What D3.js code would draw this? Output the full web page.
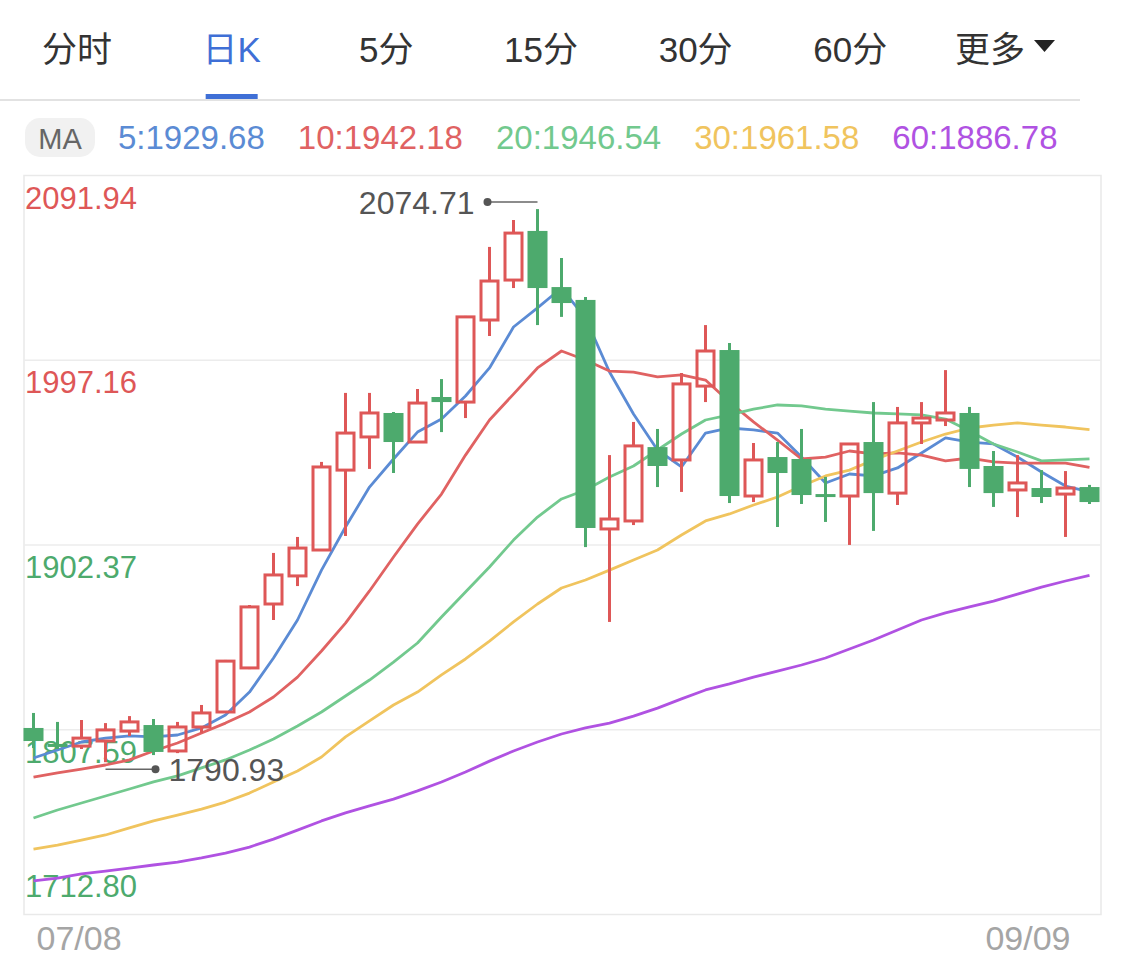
<!DOCTYPE html>
<html>
<head>
<meta charset="utf-8">
<script src="https://cdn.jsdelivr.net/npm/d3@7"></script>
<style>
  body { margin: 0; background: #fff; }
  svg { display: block; font-family: "Liberation Sans", "Noto Sans CJK SC", sans-serif; }
</style>
</head>
<body>
<svg id="chart" width="1125" height="971"></svg>
<script>
// tabs along the top
const tabs = ['分时', '日K', '5分', '15分', '30分', '60分', '更多']
const activeTab = '日K'

// trading days shown
const dates = ['07/08', '07/09', '07/10', '07/13', '07/14', '07/15', '07/16', '07/17', '07/20', '07/21',
    '07/22', '07/23', '07/24', '07/27', '07/28', '07/29', '07/30', '07/31', '08/03', '08/04',
    '08/05', '08/06', '08/07', '08/10', '08/11', '08/12', '08/13', '08/14', '08/17', '08/18',
    '08/19', '08/20', '08/21', '08/24', '08/25', '08/26', '08/27', '08/28', '08/31', '09/01',
    '09/02', '09/03', '09/04', '09/08', '09/09']

const open = [1808.5, 1800.3, 1799.2, 1801.8, 1806.9, 1810.0, 1796.7, 1809.0, 1816.7, 1839.3,
    1872.1, 1886.5, 1899.8, 1940.8, 1957.8, 1970.1, 1955.2, 1978.3, 1975.7, 2017.8,
    2038.3, 2063.5, 2034.7, 2028.1, 1910.6, 1914.7, 1952.6, 1946.0, 1983.9, 2002.4,
    1927.5, 1947.5, 1946.5, 1928.5, 1927.5, 1955.2, 1929.0, 1965.0, 1966.5, 1970.1,
    1942.9, 1930.6, 1931.6, 1928.5, 1932.1]
const high = [1816.2, 1811.6, 1812.6, 1811.0, 1814.6, 1813.1, 1811.6, 1820.3, 1843.4, 1871.6,
    1898.3, 1906.5, 1945.0, 1980.4, 1980.4, 1970.6, 1982.4, 1987.5, 2019.9, 2055.3,
    2069.1, 2074.71, 2049.6, 2029.6, 1948.5, 1965.5, 1961.9, 1990.6, 2015.2, 2006.0,
    1954.7, 1955.2, 1961.9, 1937.3, 1954.7, 1975.7, 1973.2, 1975.7, 1992.1, 1973.2,
    1950.6, 1948.5, 1940.8, 1940.3, 1933.2]
const low = [1798.2, 1797.7, 1797.7, 1790.93, 1804.4, 1794.6, 1795.6, 1805.9, 1816.2, 1838.7,
    1863.9, 1881.3, 1899.3, 1907.0, 1941.4, 1939.3, 1954.7, 1960.3, 1967.5, 2009.6,
    2034.2, 2015.2, 2019.4, 1901.3, 1862.9, 1912.6, 1932.1, 1929.6, 1975.7, 1923.9,
    1924.4, 1911.6, 1923.4, 1914.2, 1902.4, 1909.6, 1922.9, 1954.2, 1963.4, 1932.1,
    1921.9, 1916.7, 1923.9, 1906.5, 1923.4]
const close = [1801.8, 1799.2, 1803.3, 1807.5, 1811.6, 1796.2, 1809.0, 1816.2, 1842.8, 1870.6,
    1887.0, 1900.8, 1942.4, 1959.8, 1970.1, 1955.2, 1975.2, 1975.7, 2019.4, 2037.8,
    2062.4, 2034.2, 2026.5, 1911.1, 1915.7, 1953.2, 1942.9, 1985.0, 2001.9, 1927.5,
    1946.0, 1939.3, 1928.0, 1927.5, 1954.2, 1929.0, 1965.0, 1967.5, 1970.1, 1941.4,
    1929.0, 1934.2, 1927.0, 1931.6, 1924.4]

// moving averages
const ma5 = [1793.1, 1797.2, 1801.3, 1803.3, 1804.4, 1803.9, 1804.9, 1808.5, 1815.1, 1826.9,
    1844.4, 1863.9, 1889.5, 1911.6, 1932.1, 1946.5, 1960.3, 1967.0, 1978.8, 1993.2,
    2014.2, 2024.0, 2034.2, 2018.8, 1991.1, 1969.6, 1951.1, 1942.4, 1959.8, 1962.4,
    1961.4, 1959.8, 1947.5, 1934.2, 1938.8, 1937.8, 1941.9, 1949.6, 1957.3, 1955.2,
    1954.2, 1947.5, 1939.8, 1932.6, 1929.68]
const ma10 = [1783.3, 1785.4, 1787.4, 1789.5, 1792.1, 1796.7, 1800.8, 1805.9, 1811.0, 1816.7,
    1824.4, 1834.6, 1848.0, 1862.3, 1878.8, 1896.2, 1913.1, 1928.5, 1948.5, 1966.5,
    1979.8, 1993.2, 2001.9, 1997.3, 1991.6, 1991.1, 1988.6, 1989.6, 1987.0, 1975.7,
    1965.5, 1956.2, 1946.5, 1947.5, 1950.6, 1949.1, 1949.6, 1948.5, 1945.5, 1947.0,
    1945.0, 1944.4, 1944.4, 1944.4, 1942.18]
const ma20 = [1762.3, 1766.4, 1770.0, 1773.6, 1777.2, 1780.8, 1783.9, 1788.0, 1792.1, 1797.2,
    1802.8, 1809.5, 1816.7, 1824.9, 1833.1, 1842.3, 1852.1, 1865.4, 1878.3, 1891.1,
    1904.9, 1916.7, 1926.0, 1930.6, 1937.3, 1942.9, 1951.1, 1959.3, 1966.5, 1969.1,
    1972.1, 1974.2, 1973.7, 1972.1, 1971.1, 1970.1, 1969.6, 1969.1, 1967.0, 1960.9,
    1954.2, 1950.1, 1945.5, 1946.0, 1946.54]
const ma30 = [1746.4, 1748.4, 1751.0, 1753.6, 1757.2, 1760.8, 1763.8, 1766.9, 1770.5, 1775.1,
    1780.8, 1786.4, 1793.6, 1803.9, 1812.1, 1820.3, 1826.9, 1835.7, 1843.9, 1853.1,
    1862.9, 1872.1, 1880.3, 1884.4, 1889.5, 1894.7, 1899.8, 1907.5, 1914.7, 1918.3,
    1922.9, 1927.0, 1932.6, 1937.8, 1940.8, 1946.0, 1950.6, 1955.2, 1959.3, 1962.4,
    1963.9, 1965.0, 1963.9, 1962.9, 1961.58]
const ma60 = [1730.0, 1731.5, 1733.6, 1735.1, 1736.6, 1738.2, 1739.7, 1741.8, 1744.3, 1747.4,
    1751.5, 1756.1, 1760.8, 1764.9, 1768.5, 1772.0, 1776.2, 1780.8, 1785.9, 1791.5,
    1796.7, 1801.3, 1805.4, 1808.5, 1811.0, 1814.6, 1818.7, 1823.4, 1828.0, 1831.1,
    1834.6, 1837.7, 1840.8, 1844.4, 1849.0, 1853.6, 1858.8, 1863.9, 1867.5, 1870.6,
    1873.6, 1877.2, 1880.8, 1883.9, 1886.78]

const maPeriods = [5, 10, 20, 30, 60]
const maColors = ['#5b8bd4', '#e06262', '#72c98e', '#f0c45e', '#b052e2']
const maSeries = [ma5, ma10, ma20, ma30, ma60]

// y axis tick labels
const yTicks = [2091.94, 1997.16, 1902.37, 1807.59, 1712.80]

const RED = '#de5757'
const GREEN = '#4daa6d'

const svg = d3.select('#chart')

// ---- tabs ----
const tabX = d3.scalePoint().domain(tabs).range([77, 1005])

svg.selectAll('.tab')
    .data(tabs)
    .join('text')
    .attr('class', 'tab')
    .attr('x', d => d === '更多' ? tabX(d) - 15 : tabX(d))
    .attr('y', 62)
    .attr('text-anchor', 'middle')
    .style('font-size', '35px')
    .style('fill', d => d === activeTab ? '#3f6fd6' : '#333')
    .text(d => d)

// dropdown arrow after 更多
const moreX = tabX('更多')
svg.append('path')
    .attr('d', `M${moreX + 29},${40} L${moreX + 50},${40} L${moreX + 39.5},${52} Z`)
    .style('fill', '#222')

svg.append('rect')
    .attr('x', tabX(activeTab) - 26)
    .attr('y', 94)
    .attr('width', 52)
    .attr('height', 5)
    .style('fill', '#3f6fd6')

svg.append('line')
    .attr('x1', 0).attr('x2', 1080)
    .attr('y1', 100).attr('y2', 100)
    .style('stroke', '#e2e2e2')
    .style('stroke-width', 2)

// ---- MA legend ----
svg.append('rect')
    .attr('x', 25).attr('y', 118)
    .attr('width', 70).attr('height', 39)
    .attr('rx', 15)
    .style('fill', '#f1f1f1')
svg.append('text')
    .attr('x', 60).attr('y', 149)
    .attr('text-anchor', 'middle')
    .style('font-size', '29px')
    .style('fill', '#666')
    .text('MA')

let legendX = 118
maPeriods.forEach((p, i) => {
    const series = maSeries[i]
    const t = svg.append('text')
        .attr('x', legendX)
        .attr('y', 149)
        .style('font-size', '33px')
        .style('fill', maColors[i])
        .text(`${p}:${series[series.length - 1].toFixed(2)}`)
    legendX += t.node().getComputedTextLength() + 33
})

// ---- scales ----
const plot = { left: 24, right: 1101, top: 175.5, bottom: 914.5 }

const x = d3.scaleLinear()
    .domain([0, dates.length - 1])
    .range([33.5, 1089.5])

const y = d3.scaleLinear()
    .domain([yTicks[yTicks.length - 1], yTicks[0]])
    .range([plot.bottom, plot.top])

// grid + frame
svg.append('rect')
    .attr('x', plot.left).attr('y', plot.top)
    .attr('width', plot.right - plot.left)
    .attr('height', plot.bottom - plot.top)
    .style('fill', 'none')
    .style('stroke', '#e9e9e9')
    .style('stroke-width', 1.5)

svg.selectAll('.grid')
    .data(yTicks.slice(1, -1))
    .join('line')
    .attr('class', 'grid')
    .attr('x1', plot.left).attr('x2', plot.right)
    .attr('y1', d => y(d)).attr('y2', d => y(d))
    .style('stroke', '#ececec')
    .style('stroke-width', 1.5)

const lastClose = close[close.length - 1]
svg.selectAll('.ylabel')
    .data(yTicks)
    .join('text')
    .attr('class', 'ylabel')
    .attr('x', plot.left + 1)
    .attr('y', (d, i) => i === yTicks.length - 1 ? y(d) - 18 : y(d) + 33)
    .style('font-size', '31px')
    .style('fill', d => d > lastClose ? RED : GREEN)
    .text(d => d.toFixed(2))

// ---- MA lines ----
const line = d3.line()
    .x((d, i) => x(i))
    .y(d => y(d))

svg.selectAll('.ma')
    .data(maSeries)
    .join('path')
    .attr('class', 'ma')
    .attr('d', d => line(d))
    .style('fill', 'none')
    .style('stroke', (d, i) => maColors[i])
    .style('stroke-width', 2.8)
    .style('stroke-linejoin', 'round')

// ---- candles ----
const candles = dates.map((d, i) => ({
    i, date: d, o: open[i], h: high[i], l: low[i], c: close[i], up: close[i] >= open[i]
}))

const bodyW = 20
const g = svg.append('g')

// down candles: filled, wick full length underneath
const down = candles.filter(d => !d.up)
g.selectAll('.wick-down')
    .data(down)
    .join('line')
    .attr('x1', d => x(d.i)).attr('x2', d => x(d.i))
    .attr('y1', d => y(d.h)).attr('y2', d => y(d.l))
    .style('stroke', GREEN)
    .style('stroke-width', 3)
g.selectAll('.body-down')
    .data(down)
    .join('rect')
    .attr('x', d => x(d.i) - bodyW / 2)
    .attr('y', d => y(d.o))
    .attr('width', bodyW)
    .attr('height', d => Math.max(3, y(d.c) - y(d.o)))
    .style('fill', GREEN)

// up candles: hollow, wicks only outside the body
const up = candles.filter(d => d.up)
g.selectAll('.wick-up-top')
    .data(up)
    .join('line')
    .attr('x1', d => x(d.i)).attr('x2', d => x(d.i))
    .attr('y1', d => y(d.h)).attr('y2', d => y(d.c))
    .style('stroke', RED)
    .style('stroke-width', 3)
g.selectAll('.wick-up-bottom')
    .data(up)
    .join('line')
    .attr('x1', d => x(d.i)).attr('x2', d => x(d.i))
    .attr('y1', d => y(d.o)).attr('y2', d => y(d.l))
    .style('stroke', RED)
    .style('stroke-width', 3)
g.selectAll('.body-up')
    .data(up)
    .join('rect')
    .attr('x', d => x(d.i) - bodyW / 2 + 1.5)
    .attr('y', d => y(d.c))
    .attr('width', bodyW - 3)
    .attr('height', d => Math.max(2, y(d.o) - y(d.c)))
    .style('fill', 'none')
    .style('stroke', RED)
    .style('stroke-width', 3)

// ---- high / low markers ----
const hiIdx = d3.maxIndex(high)
const loIdx = d3.minIndex(low)

function marker(idx, value, dir, dy) {
    const cx = x(idx)
    const ly = y(value) + dy
    const dotX = cx + dir * 50
    svg.append('line')
        .attr('x1', cx).attr('x2', dotX)
        .attr('y1', ly).attr('y2', ly)
        .style('stroke', '#666')
        .style('stroke-width', 1.5)
    svg.append('circle')
        .attr('cx', dotX).attr('cy', ly).attr('r', 4)
        .style('fill', '#555')
    svg.append('text')
        .attr('x', dotX + dir * 13)
        .attr('y', ly + 12)
        .attr('text-anchor', dir < 0 ? 'end' : 'start')
        .style('font-size', '32px')
        .style('fill', '#555')
        .text(value.toFixed(2))
}
marker(hiIdx, high[hiIdx], -1, -7)
marker(loIdx, low[loIdx], 1, 7)

// ---- date labels ----
svg.append('text')
    .attr('x', x(0) + 3)
    .attr('y', 950)
    .style('font-size', '34px')
    .style('fill', '#a5a5a5')
    .text(dates[0])
svg.append('text')
    .attr('x', x(dates.length - 1) - 19)
    .attr('y', 950)
    .attr('text-anchor', 'end')
    .style('font-size', '34px')
    .style('fill', '#a5a5a5')
    .text(dates[dates.length - 1])
</script>
</body>
</html>
